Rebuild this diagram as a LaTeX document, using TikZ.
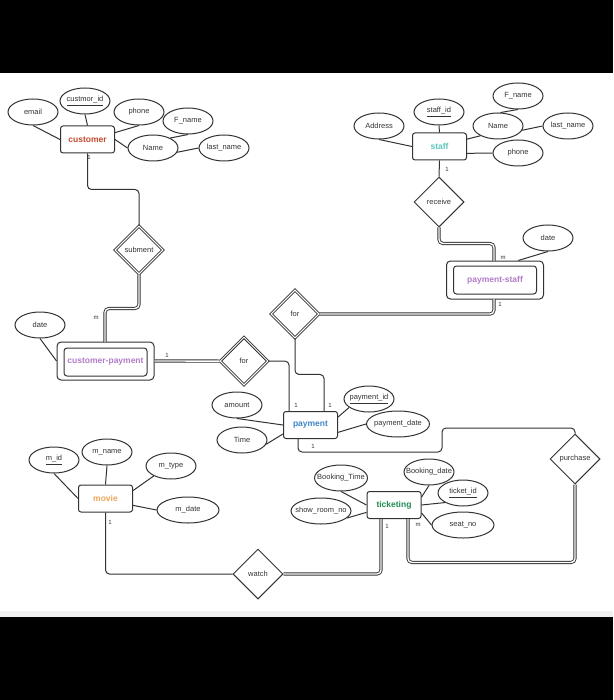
\documentclass[tikz,border=0pt]{standalone}
\usepackage{fontspec}
\setmainfont{Liberation Sans}
\usepackage{tikz}
\usetikzlibrary{shapes, arrows, positioning}
\definecolor{inkgray}{HTML}{333333}
\definecolor{redtxt}{HTML}{C4492F}
\definecolor{tealtxt}{HTML}{5CC6BC}
\definecolor{purpletxt}{HTML}{B27CC8}
\definecolor{bluetxt}{HTML}{3D85C6}
\definecolor{orangetxt}{HTML}{F0A656}
\definecolor{greentxt}{HTML}{1F8A52}
\newcommand{\attr}[1]{\makebox[0pt]{#1}}
\tikzstyle{attrib} = [ellipse, draw=inkgray, fill=white, line width=1pt, inner sep=0pt, minimum width=50pt, minimum height=26pt, font=\fontsize{7.5}{9}\selectfont, text=inkgray]
\tikzstyle{entity} = [rectangle, rounded corners=2.5pt, draw=inkgray, fill=white, line width=1pt, inner sep=0pt, minimum width=54pt, minimum height=27pt, font=\fontsize{8.5}{10}\selectfont\bfseries]
\tikzstyle{outerbox} = [entity, rounded corners=4pt, minimum width=97pt, minimum height=38pt]
\tikzstyle{innerbox} = [entity, rounded corners=3pt, minimum width=83pt, minimum height=28pt]
\tikzstyle{rel} = [diamond, draw=inkgray, fill=white, line width=1pt, inner sep=0pt, aspect=1, minimum width=50pt, minimum height=50pt, font=\fontsize{7.5}{9}\selectfont, text=inkgray]
\tikzstyle{drel} = [rel, line width=0.9pt, double, double distance=1pt, minimum width=48pt, minimum height=48pt]
\tikzstyle{card} = [inner sep=0pt, font=\fontsize{6}{7}\selectfont, text=inkgray]
\tikzstyle{line} = [draw=inkgray, line width=1pt, rounded corners=4pt]
\tikzstyle{dline} = [draw=inkgray, line width=0.9pt, double, double distance=1.4pt, rounded corners=4pt]

\begin{document}
\begin{tikzpicture}[x=1pt, y=-1pt]
	\useasboundingbox (0,0) rectangle (613,700);
	\fill [white] (0,0) rectangle (613,700);
	\fill [black] (0,0) rectangle (613,73);
	\fill [black!6] (0,611) rectangle (613,617);
	\fill [black] (0,617) rectangle (613,700);

	\node [entity, text=redtxt] (customer) at (87.5,139.5) {customer};
	\node [attrib] (email) at (33,112) {\attr{email}};
	\node [attrib] (custid) at (85,101) {\attr{\underline{custmor\_id}}};
	\node [attrib] (cphone) at (139,112) {\attr{phone}};
	\node [attrib] (cfname) at (188,121) {\attr{F\_name}};
	\node [attrib] (cname) at (153,148) {\attr{Name}};
	\node [attrib] (clname) at (224,148) {\attr{last\_name}};

	\node [entity, text=tealtxt] (staff) at (439.5,146.5) {staff};
	\node [attrib] (address) at (379,126) {\attr{Address}};
	\node [attrib] (staffid) at (439,112) {\attr{\underline{staff\_id}}};
	\node [attrib] (sname) at (498,126) {\attr{Name}};
	\node [attrib] (sfname) at (518,96) {\attr{F\_name}};
	\node [attrib] (slname) at (568,126) {\attr{last\_name}};
	\node [attrib] (sphone) at (518,153) {\attr{phone}};

	\node [rel] (receive) at (439,202) {receive};
	\node [drel] (submit) at (139,250) {subment};
	\node [drel] (fortop) at (295,314) {for};
	\node [drel] (forleft) at (244,361.1) {for};
	\node [rel] (purchase) at (575,459) {purchase};
	\node [rel] (watch) at (258,574) {watch};

	\node [outerbox] (psout) at (495,280) {};
	\node [innerbox, text=purpletxt] (psin) at (495,280) {payment-staff};
	\node [attrib] (sdate) at (548,238) {\attr{date}};

	\node [outerbox] (cpout) at (105.5,361) {};
	\node [innerbox, text=purpletxt] (cpin) at (105.5,362) {\makebox[0pt]{customer-payment}};
	\node [attrib] (cdate) at (40,325) {\attr{date}};

	\node [entity, text=bluetxt] (payment) at (310.5,425) {payment};
	\node [attrib] (amount) at (237,405) {\attr{amount}};
	\node [attrib] (time) at (242,440) {\attr{Time}};
	\node [attrib] (payid) at (369,399) {\attr{\underline{payment\_id}}};
	\node [attrib, minimum width=63pt] (paydate) at (398,424) {\attr{payment\_date}};

	\node [entity, text=orangetxt] (movie) at (105.5,498.5) {movie};
	\node [attrib] (mid) at (54,460) {\attr{\underline{m\_id}}};
	\node [attrib] (mname) at (107,452) {\attr{m\_name}};
	\node [attrib] (mtype) at (171,466) {\attr{m\_type}};
	\node [attrib, minimum width=62pt] (mdate) at (188,510) {\attr{m\_date}};

	\node [entity, text=greentxt] (ticket) at (394,505) {ticketing};
	\node [attrib, minimum width=53pt] (btime) at (341,478) {\attr{Booking\_Time}};
	\node [attrib, minimum width=60pt] (showroom) at (321,511) {\attr{show\_room\_no}};
	\node [attrib] (bdate) at (429,472) {\attr{Booking\_date}};
	\node [attrib] (ticketid) at (463,493) {\attr{\underline{ticket\_id}}};
	\node [attrib, minimum width=62pt] (seat) at (463,525) {\attr{seat\_no}};

	\node [card] (c1) at (89,157) {1};
	\node [card] (c2) at (96,318) {m};
	\node [card] (c3) at (167,355) {1};
	\node [card] (c4) at (447,169) {1};
	\node [card] (c5) at (503,258) {m};
	\node [card] (c6) at (500,304) {1};
	\node [card] (c7) at (296,405) {1};
	\node [card] (c8) at (330,405) {1};
	\node [card] (c9) at (313,446) {1};
	\node [card] (c10) at (110,522) {1};
	\node [card] (c11) at (387,526) {1};
	\node [card] (c12) at (418,525) {m};

	\coordinate (cptop) at (105,342);
	\coordinate (pstop) at (494,261);
	\coordinate (psbot) at (494,299);
	\coordinate (paytopa) at (289,411);
	\coordinate (paytopb) at (324,411);
	\coordinate (paybot) at (298,439);
	\coordinate (ticketa) at (381,519);
	\coordinate (ticketb) at (408,519);

	\path [line] (email.south) -- (customer.west);
	\path [line] (custid.south) -- (customer.north);
	\path [line] (cphone.south) -- (customer.14);
	\path [line] (cname.west) -- (customer.east);
	\path [line] (cfname.south) -- (cname.30);
	\path [line] (cname.-10) -- (clname.west);

	\path [line] (address.south) -- (staff.west);
	\path [line] (staffid.south) -- (staff.north);
	\path [line] (sname.209) -- (staff.15);
	\path [line] (sfname.south) -- (sname.80);
	\path [line] (sname.-10) -- (slname.west);
	\path [line] (sphone.west) -- (staff.-14);
	\path [line] (staff.south) -- (receive.north);
	\path [line] (sdate.south) -- (psout.40);
	\path [line] (cdate.south) -- (cpout.west);

	\path [line] (amount.south) -- (payment.west);
	\path [line] (time.-10) -- (payment.198);
	\path [line] (payid.203) -- (payment.16);
	\path [line] (paydate.west) -- (payment.-15);

	\path [line] (mid.south) -- (movie.west);
	\path [line] (mname.south) -- (movie.north);
	\path [line] (mtype.210) -- (movie.16);
	\path [line] (mdate.west) -- (movie.-14);

	\path [line] (btime.south) -- (ticket.west);
	\path [line] (showroom.-15) -- (ticket.195);
	\path [line] (bdate.south) -- (ticket.16);
	\path [line] (ticketid.208) -- (ticket.east);
	\path [line] (seat.west) -- (ticket.-16);

	\path [line] (customer.south) -- ++(0,36) -| (submit.north);
	\path [line] (forleft.east) -| (paytopa);
	\path [line] (fortop.south) -- ++(0,36) -| (paytopb);
	\path [line] (paybot) -- ++(0,13) -- ++(144,0) -- ++(0,-24) -| (purchase.north);
	\path [line] (movie.south) |- (watch.west);

	\path [dline] (submit.south) -- ++(0,34) -| (cptop);
	\path [dline] (cpout.east) -- (forleft.west);
	\path [dline] (receive.south) -- ++(0,16) -| (pstop);
	\path [dline] (psbot) |- (fortop.east);
	\path [dline] (watch.east) -| (ticketa);
	\path [dline] (purchase.south) -- ++(0,78) -| (ticketb);
\end{tikzpicture}
\end{document}
